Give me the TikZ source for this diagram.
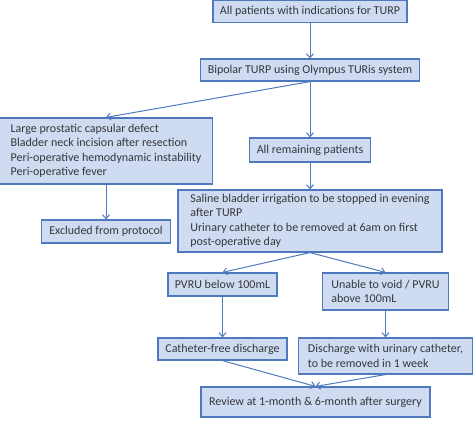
\documentclass[tikz,border=0pt]{standalone}
\usepackage{fontspec}
\setmainfont{Carlito}
\usetikzlibrary{arrows.meta}
\definecolor{boxfill}{RGB}{206,219,241}
\definecolor{boxline}{RGB}{79,121,190}
\definecolor{boxtext}{RGB}{55,55,60}
\begin{document}
\begin{tikzpicture}
  [x=1pt,y=-1pt,>={Straight Barb[length=4pt,width=7pt]},
   every node/.style={draw=boxline,fill=boxfill,line width=1.2pt,text=boxtext,
     font=\fontsize{12}{14.5}\selectfont,inner sep=0pt,align=center},
   multi/.style={align=left}]

  \useasboundingbox (0,0) rectangle (474,425);

  \node[minimum width=194pt,minimum height=22pt] (all) at (310,11.5) {All patients with indications for TURP};
  \node[minimum width=219pt,minimum height=22pt] (bipolar) at (310,70) {Bipolar TURP using Olympus TURis system};
  \node[multi,minimum width=213pt,minimum height=66pt] (crit) at (106,151) {Large prostatic capsular defect\\Bladder neck incision after resection\\Peri-operative hemodynamic instability\\Peri-operative fever};
  \node[minimum width=121pt,minimum height=24pt] (rest) at (310,150) {All remaining patients};
  \node[multi,minimum width=264pt,minimum height=62pt] (saline) at (310,221) {Saline bladder irrigation to be stopped in evening\\after TURP\\Urinary catheter to be removed at 6am on first\\post-operative day};
  \node[minimum width=129pt,minimum height=23pt] (excl) at (106,231.5) {Excluded from protocol};
  \node[minimum width=109pt,minimum height=23pt] (low) at (222.5,284.5) {PVRU below 100mL};
  \node[multi,minimum width=126pt,minimum height=37pt] (high) at (385.5,291.5) {Unable to void / PVRU\\above 100mL};
  \node[minimum width=129pt,minimum height=22pt] (free) at (222.5,349) {Catheter-free discharge};
  \node[multi,minimum width=174pt,minimum height=36pt] (cath) at (385.5,356) {Discharge with urinary catheter,\\to be removed in 1 week};
  \node[minimum width=229pt,minimum height=30pt] (review) at (315.5,402) {Review at 1-month \& 6-month after surgery};

\foreach \from/\to in {all/bipolar,bipolar/crit,bipolar/rest,rest/saline,crit/excl,saline/low,saline/high,low/free,high/cath,free/review,cath/review}
    \draw[->,boxline,line width=1pt] (\from.south) -- (\to.north);

\end{tikzpicture}
\end{document}
